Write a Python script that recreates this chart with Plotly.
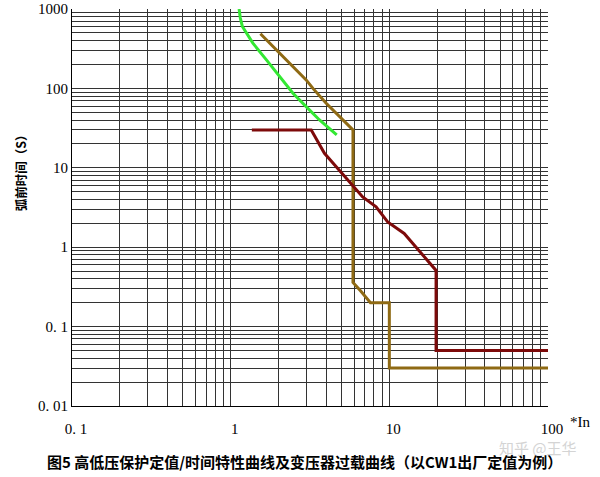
import plotly.graph_objects as go

# ---- data ----
green_x = [1.13, 1.15, 1.185, 1.255, 1.38, 1.68, 2.03, 2.47, 2.99, 3.63, 4.66]
green_y = [1000, 770, 603, 498, 372, 229, 141, 87, 59, 40, 26]

brown_x = [1.54, 2.03, 2.15, 2.6, 2.99, 3.3, 4.0, 5.9, 5.9, 6.6, 7.6, 10, 10, 100]
brown_y = [488, 278, 250, 170, 128, 100, 65, 30, 0.36, 0.28, 0.2, 0.2, 0.03, 0.03]

red_x = [1.36, 3.22, 3.9, 4.85, 5.88, 6.79, 8.25, 9.76, 12.4, 14.7, 19.7, 19.7, 100]
red_y = [30, 30, 15.2, 9.35, 6.05, 4.3, 3.22, 2.08, 1.49, 1.0, 0.51, 0.05, 0.05]

x_decades = [0.1, 1, 10]
x_decade_labels = ["0. 1", "1", "10"]
x_last, x_last_label = 100, "100"
y_decades = [0.01, 0.1, 1, 10, 100]
y_decade_labels = ["0. 01", "0. 1", "1", "10", "100"]
y_last, y_last_label = 1000, "1000"

y_title = "弧前时间（S）"
x_unit = "*In"
caption = "图5 高低压保护定值/时间特性曲线及变压器过载曲线（以CW1出厂定值为例）"
watermark = "知乎 @王华"


def log_ticks(decades, labels, last, last_label):
    vals, texts = [], []
    for d, lab in zip(decades, labels):
        for k in range(1, 10):
            vals.append(round(d * k, 6))
            texts.append(lab if k == 1 else "")
    vals.append(last)
    texts.append(last_label)
    return vals, texts


xv, xt = log_ticks(x_decades, x_decade_labels, x_last, x_last_label)
yv, yt = log_ticks(y_decades, y_decade_labels, y_last, y_last_label)

fig = go.Figure()
fig.add_trace(go.Scatter(x=green_x, y=green_y, mode="lines",
                         line=dict(color="#33e833", width=3), showlegend=False))
fig.add_trace(go.Scatter(x=brown_x, y=brown_y, mode="lines",
                         line=dict(color="#8f6a14", width=3), showlegend=False))
fig.add_trace(go.Scatter(x=red_x, y=red_y, mode="lines",
                         line=dict(color="#7d0a0a", width=3), showlegend=False))

tickfont = dict(family="Liberation Serif", size=15, color="black")
grid = "#333333"

fig.update_xaxes(type="log", range=[-1, 2], tickmode="array", tickvals=xv, ticktext=xt,
                 showgrid=True, gridcolor=grid, gridwidth=1, ticks="",
                 showline=True, linecolor="black", linewidth=1, mirror=False,
                 tickfont=tickfont, fixedrange=True, automargin=False,
                 ticklabelstandoff=9, ticklabelshift=4)
fig.update_yaxes(type="log", range=[-2, 3], tickmode="array", tickvals=yv, ticktext=yt,
                 showgrid=True, gridcolor=grid, gridwidth=1, ticks="",
                 showline=True, linecolor="black", linewidth=1, mirror=False,
                 tickfont=tickfont, fixedrange=True, automargin=False)

fig.add_annotation(text=x_unit, xref="paper", yref="paper", x=1.067, y=-0.04,
                   xanchor="center", yanchor="middle",
                   showarrow=False, font=dict(family="Liberation Serif", size=15, color="black"))
fig.add_annotation(text="<b>" + y_title + "</b>", xref="paper", yref="paper", x=-0.109, y=0.594,
                   xanchor="center", yanchor="middle",
                   textangle=-90, showarrow=False,
                   font=dict(family="Noto Sans CJK SC", size=12.5, color="black"))
fig.add_annotation(text=watermark, xref="paper", yref="paper", x=0.979, y=-0.104,
                   xanchor="center", yanchor="middle",
                   showarrow=False,
                   font=dict(family="Noto Sans CJK SC", size=15, color="#d4d4d4"))
fig.add_annotation(text="<b>" + caption + "</b>", xref="paper", yref="paper", x=0.489, y=-0.141,
                   xanchor="center", yanchor="middle",
                   showarrow=False,
                   font=dict(family="Noto Sans CJK SC", size=15, color="black"))

fig.update_layout(width=600, height=477, margin=dict(l=72, r=52, t=9, b=71, autoexpand=False),
                  plot_bgcolor="white", paper_bgcolor="white")

fig.write_html("out.html", config={"displayModeBar": False},
               post_script="document.body.style.margin='0';")
